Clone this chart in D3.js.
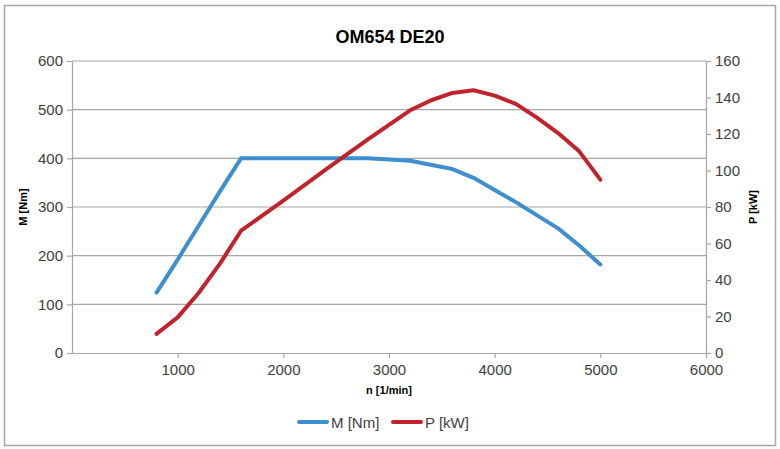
<!DOCTYPE html>
<html lang="en">
<head>
<meta charset="UTF-8">
<script src="https://d3js.org/d3.v7.min.js"></script>
<style>
  body { margin: 0; background: #fff; }
  text { font-family: "Liberation Sans", Arial, sans-serif; }
</style>
</head>
<body>
<svg class="chart"></svg>
<script>
// data
var rpmTorque = [800, 1000, 1200, 1400, 1600, 2000, 2400, 2800, 3200, 3600, 3800, 4000, 4200, 4600, 4800, 5000];
var torque    = [124, 192, 262, 332, 400, 400, 400, 400, 395, 378, 360, 335, 310, 256, 221, 182];
var rpmPower  = [800, 1000, 1200, 1400, 1600, 2000, 2400, 2800, 3200, 3400, 3600, 3800, 4000, 4200, 4400, 4600, 4800, 5000];
var power     = [10.5, 19.5, 33, 49, 67, 83.5, 100.5, 117, 133, 138.5, 142.5, 144, 141, 136.5, 129, 120.5, 110.5, 95];
var xTicks = [1000, 2000, 3000, 4000, 5000, 6000];
var leftTicks = [0, 100, 200, 300, 400, 500, 600];
var rightTicks = [0, 20, 40, 60, 80, 100, 120, 140, 160];

var W = 780, H = 449;
var svg = d3.select(".chart").attr("width", W).attr("height", H);

// outer frame
svg.append("rect")
    .attr("x", 4.5).attr("y", 5.5).attr("width", 771).attr("height", 440)
    .attr("fill", "#fff").attr("stroke", "#a6a6a6").attr("stroke-width", 1.5);

var x = d3.scaleLinear().domain([0, 6000]).range([72, 706]);
var yL = d3.scaleLinear().domain([0, 600]).range([353, 61]);
var yR = d3.scaleLinear().domain([0, 160]).range([353, 61]);

// gridlines
svg.append("g").selectAll("line").data(leftTicks.slice(1)).enter().append("line")
    .attr("x1", x(0)).attr("x2", x(6000))
    .attr("y1", function(d) { return yL(d); }).attr("y2", function(d) { return yL(d); })
    .attr("stroke", "#a6a6a6").attr("stroke-width", 1.2);

function styleAxis(g) {
    g.select(".domain").attr("stroke", "#a6a6a6").attr("stroke-width", 1.2);
    g.selectAll(".tick line").attr("stroke", "#a6a6a6").attr("stroke-width", 1.2);
    g.selectAll(".tick text").attr("fill", "#404040").style("font-size", "15px")
        .style("font-family", "'Liberation Sans', Arial, sans-serif");
}

var fmt = d3.format("d");

svg.append("g").attr("transform", "translate(0," + yL(0) + ")")
    .call(d3.axisBottom(x).tickValues(xTicks).tickFormat(fmt).tickSize(5).tickSizeOuter(0).tickPadding(6))
    .call(styleAxis);

svg.append("g").attr("transform", "translate(" + x(0) + ",0)")
    .call(d3.axisLeft(yL).tickValues(leftTicks).tickFormat(fmt).tickSize(5).tickSizeOuter(0).tickPadding(4))
    .call(styleAxis);

svg.append("g").attr("transform", "translate(" + x(6000) + ",0)")
    .call(d3.axisRight(yR).tickValues(rightTicks).tickFormat(fmt).tickSize(5).tickSizeOuter(0).tickPadding(4))
    .call(styleAxis);

// lines
var lineM = d3.line()
    .x(function(d, i) { return x(rpmTorque[i]); })
    .y(function(d) { return yL(d); });
var lineP = d3.line()
    .x(function(d, i) { return x(rpmPower[i]); })
    .y(function(d) { return yR(d); });

svg.append("path").datum(torque).attr("d", lineM)
    .attr("fill", "none").attr("stroke", "#3d8fcf").attr("stroke-width", 4)
    .attr("stroke-linejoin", "round").attr("stroke-linecap", "round");
svg.append("path").datum(power).attr("d", lineP)
    .attr("fill", "none").attr("stroke", "#c0232b").attr("stroke-width", 4)
    .attr("stroke-linejoin", "round").attr("stroke-linecap", "round");

// title and axis titles
svg.append("text").attr("x", 390).attr("y", 43).attr("text-anchor", "middle")
    .style("font-size", "18px").style("font-weight", "bold").attr("fill", "#000")
    .text("OM654 DE20");

svg.append("text").attr("x", 389).attr("y", 394).attr("text-anchor", "middle")
    .style("font-size", "11px").style("font-weight", "bold").attr("fill", "#000")
    .text("n [1/min]");

svg.append("text").attr("transform", "translate(27,207) rotate(-90)").attr("text-anchor", "middle")
    .style("font-size", "11px").style("font-weight", "bold").attr("fill", "#000")
    .text("M [Nm]");

svg.append("text").attr("transform", "translate(757,207) rotate(-90)").attr("text-anchor", "middle")
    .style("font-size", "11px").style("font-weight", "bold").attr("fill", "#000")
    .text("P [kW]");

// legend
var legend = [{name: "M [Nm]", color: "#3d8fcf", x: 299}, {name: "P [kW]", color: "#c0232b", x: 393}];
var lg = svg.append("g").selectAll("g").data(legend).enter().append("g");
lg.append("line")
    .attr("x1", function(d) { return d.x; }).attr("x2", function(d) { return d.x + 28; })
    .attr("y1", 422).attr("y2", 422)
    .attr("stroke", function(d) { return d.color; }).attr("stroke-width", 4).attr("stroke-linecap", "round");
lg.append("text")
    .attr("x", function(d) { return d.x + 32; }).attr("y", 427.5)
    .style("font-size", "15px").attr("fill", "#404040")
    .text(function(d) { return d.name; });
</script>
</body>
</html>
